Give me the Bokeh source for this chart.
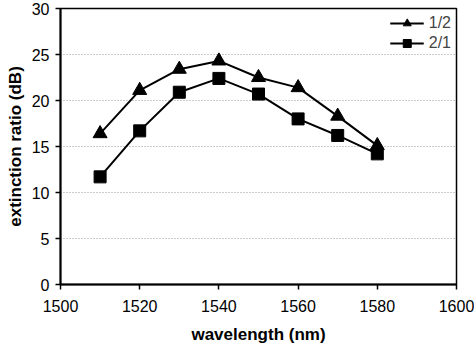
from bokeh.plotting import figure
from bokeh.models import Range1d, FixedTicker, Legend, LegendItem
from bokeh.embed import file_html
from bokeh.resources import INLINE

wavelength = [1510, 1520, 1530, 1540, 1550, 1560, 1570, 1580]
ratio_12 = [16.4, 21.1, 23.4, 24.3, 22.5, 21.4, 18.3, 15.1]
ratio_21 = [11.7, 16.7, 20.9, 22.4, 20.7, 18.0, 16.2, 14.2]
x_ticks = [1500, 1520, 1540, 1560, 1580, 1600]
y_ticks = [0, 5, 10, 15, 20, 25, 30]

FONT = "Liberation Sans"

p = figure(width=474, height=351, output_backend="svg", toolbar_location=None,
           x_range=Range1d(1500, 1600), y_range=Range1d(0, 30),
           min_border_left=60, min_border_right=18, min_border_top=8, min_border_bottom=67)
p.background_fill_color = "white"
p.border_fill_color = "white"
p.outline_line_color = "black"
p.outline_line_width = 1.5

p.xgrid.visible = False
p.ygrid.grid_line_color = "#999999"
p.ygrid.grid_line_dash = "1 2"
p.ygrid.grid_line_width = 1

for ax in (p.xaxis[0], p.yaxis[0]):
    ax.axis_line_color = "black"
    ax.axis_line_width = 2
    ax.major_tick_line_color = "black"
    ax.major_tick_line_width = 1.5
    ax.major_tick_out = 5
    ax.major_tick_in = 0
    ax.minor_tick_line_color = None
    ax.major_label_text_font = FONT
    ax.major_label_text_font_size = "16px"
    ax.major_label_text_color = "black"
    ax.axis_label_text_font = FONT
    ax.axis_label_text_font_size = "17px"
    ax.axis_label_text_font_style = "bold"
    ax.axis_label_text_color = "black"

p.xaxis.ticker = FixedTicker(ticks=x_ticks)
p.yaxis.ticker = FixedTicker(ticks=y_ticks)
p.xaxis.axis_label = "wavelength (nm)"
p.yaxis.axis_label = "extinction ratio (dB)"
p.xaxis.major_label_standoff = 10
p.xaxis.axis_label_standoff = 10
p.yaxis.major_label_standoff = 6
p.yaxis.axis_label_standoff = 4

l1 = p.line(wavelength, ratio_12, line_color="black", line_width=2)
m1 = p.scatter(wavelength, ratio_12, marker="triangle", size=14, fill_color="black", line_color="black")
l2 = p.line(wavelength, ratio_21, line_color="black", line_width=2)
m2 = p.scatter(wavelength, ratio_21, marker="square", size=12, fill_color="black", line_color="black")

legend = Legend(items=[LegendItem(label="1/2", renderers=[l1, m1]),
                       LegendItem(label="2/1", renderers=[l2, m2])],
                location="top_right")
legend.border_line_color = None
legend.background_fill_alpha = 0
legend.label_text_font = FONT
legend.label_text_font_size = "16px"
legend.glyph_width = 34
legend.spacing = 0
legend.padding = 3
legend.margin = 5
p.add_layout(legend)

open("out.html", "w").write(file_html(p, INLINE))
